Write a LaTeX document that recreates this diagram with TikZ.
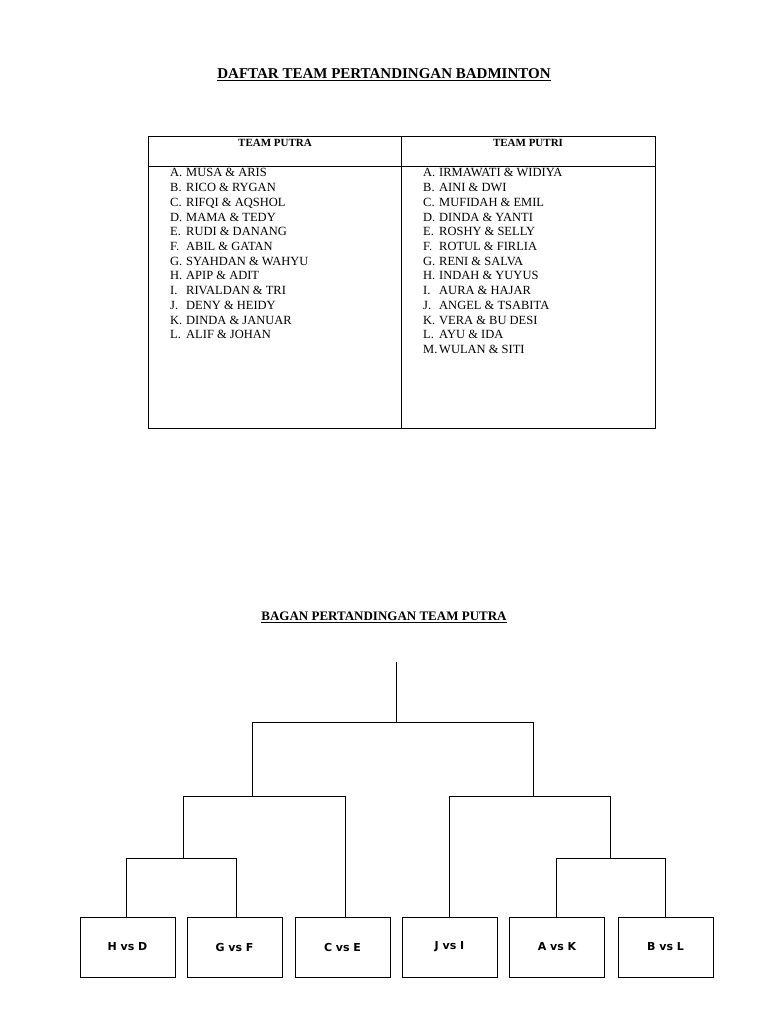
\documentclass[tikz,border=0pt]{standalone}
\usepackage{fontspec}
\setmainfont{Liberation Serif}
\newfontfamily\boxfont{DejaVu Sans}
\begin{document}
\begin{tikzpicture}[x=1pt,y=-1pt,
  ln/.style={line width=0.9pt},
  mbox/.style={draw,line width=0.7pt,minimum width=95pt,minimum height=60pt,font=\boxfont\bfseries\fontsize{11}{13}\selectfont,inner sep=0pt},
  lst/.style={anchor=base west,font=\fontsize{12.5}{14}\selectfont,inner sep=0pt},
  ttl/.style={font=\bfseries\fontsize{15}{17}\selectfont,inner sep=0pt}]
\useasboundingbox (0,0) rectangle (768,1024);
\node[ttl] (t1) at (384,75) {\underline{DAFTAR TEAM PERTANDINGAN BADMINTON}};
\draw[line width=0.7pt] (148,136) rectangle (655,428);
\draw[line width=0.7pt] (401,136) -- (401,428) (148,166) -- (655,166);
\node[font=\bfseries\fontsize{11}{13}\selectfont] (h1) at (275,143) {TEAM PUTRA};
\node[font=\bfseries\fontsize{11}{13}\selectfont] (h2) at (528,143) {TEAM PUTRI};
\foreach \l/\n [count=\i from 0] in {A./MUSA \& ARIS,B./RICO \& RYGAN,C./RIFQI \& AQSHOL,D./MAMA \& TEDY,E./RUDI \& DANANG,F./ABIL \& GATAN,G./SYAHDAN \& WAHYU,H./APIP \& ADIT,I./RIVALDAN \& TRI,J./DENY \& HEIDY,K./DINDA \& JANUAR,L./ALIF \& JOHAN}{
  \node[lst] (pl\i) at (170,177+14.7*\i) {\l};
  \node[lst] (pn\i) at (186,177+14.7*\i) {\n};}
\foreach \l/\n [count=\i from 0] in {A./IRMAWATI \& WIDIYA,B./AINI \& DWI,C./MUFIDAH \& EMIL,D./DINDA \& YANTI,E./ROSHY \& SELLY,F./ROTUL \& FIRLIA,G./RENI \& SALVA,H./INDAH \& YUYUS,I./AURA \& HAJAR,J./ANGEL \& TSABITA,K./VERA \& BU DESI,L./AYU \& IDA,M./WULAN \& SITI}{
  \node[lst] (ql\i) at (423,177+14.7*\i) {\l};
  \node[lst] (qn\i) at (439,177+14.7*\i) {\n};}
\node[ttl,font=\bfseries\fontsize{13}{15}\selectfont] (t2) at (384,617) {\underline{BAGAN PERTANDINGAN TEAM PUTRA}};
\node[mbox] (b1) at (127.5,947) {H vs D};
\node[mbox] (b2) at (234.5,947) {G vs F};
\node[mbox] (b3) at (342.5,947) {C vs E};
\node[mbox] (b4) at (449.5,947) {J vs I};
\node[mbox] (b5) at (557,947) {A vs K};
\node[mbox] (b6) at (665.5,947) {B vs L};
\coordinate (top) at (396,662);
\draw[ln] (top) -- (396,722);
\draw[ln] (252,796) -- (252,722) -- (533,722) -- (533,796);
\draw[ln] (183,858) -- (183,796) -- (345,796) -- (b3.north -| 345,0);
\draw[ln] (126,917) -- (126,858) -- (236,858) -- (236,917);
\draw[ln] (449,917) -- (449,796) -- (610,796) -- (610,858);
\draw[ln] (556,917) -- (556,858) -- (665,858) -- (665,917);
\end{tikzpicture}
\end{document}
